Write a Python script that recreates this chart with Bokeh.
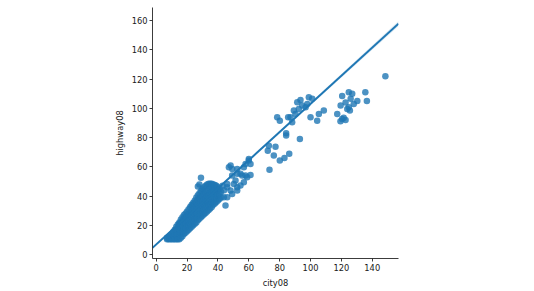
import numpy as np
from bokeh.plotting import figure
from bokeh.models import FixedTicker
from bokeh.embed import file_html
from bokeh.resources import INLINE

# dense cloud: city08 -> list of highway08 values
blob = {
    7: [10.5, 11.5],
    8: [10.5, 12],
    9: [10.5, 13],
    10: [10.5, 14],
    11: [10.5, 13, 15.5],
    12: [10.5, 14, 17],
    13: [10.5, 14, 17, 19],
    14: [10.5, 14, 17.5, 20.5],
    15: [10.5, 14, 17.5, 21, 22],
    16: [11.5, 15, 18.5, 22, 24],
    17: [12.5, 16, 19.5, 23, 25.5],
    18: [14, 17.5, 21, 24.5, 27],
    19: [15, 18.5, 22, 25.5, 28],
    20: [16, 19.5, 23, 26.5, 29.5],
    21: [17, 20.5, 24, 27.5, 31],
    22: [18, 21.5, 25, 28.5, 32.5],
    23: [19, 22.5, 26, 29.5, 33, 34],
    24: [20, 23.5, 27, 30.5, 34, 35.5],
    25: [21, 24.5, 28, 31.5, 35, 37],
    26: [22, 25.5, 29, 32.5, 36, 39],
    27: [23.5, 27, 30.5, 34, 37.5, 40.5, 46.5],
    28: [24.5, 28, 31.5, 35, 38.5, 42, 48],
    29: [25.5, 29, 32.5, 36, 39.5, 43.5, 52.5],
    30: [26.5, 30, 33.5, 37, 40.5, 44, 45],
    31: [27.5, 31, 34.5, 38, 41.5, 46],
    32: [28.5, 32, 35.5, 39, 42.5, 47],
    33: [29.5, 33, 36.5, 40, 43.5, 48],
    34: [30.5, 34, 37.5, 41, 44.5, 48.5],
    35: [31.5, 35, 38.5, 42, 45.5, 48.5],
    36: [32.5, 36, 39.5, 43, 46.5, 48.5],
    37: [34, 37.5, 41, 44.5, 48],
    38: [35, 38.5, 42, 45, 47.5],
    39: [36, 39.5, 43, 47],
    40: [37, 40.5, 44, 46],
    41: [38, 41.5, 45],
    42: [39, 43],
}

# sparse points outside the cloud
outlier_city = [44.9, 43.8, 46, 49.2, 48.2, 46, 52.5, 50.3, 46, 51.4, 56.8, 54.6,
                57.9, 61.1, 58.9, 55.7, 52.5, 54.6, 48.2, 49.3, 47.1, 52.5, 56.8,
                57.9, 60, 61.1, 60, 49.2, 52.5, 43, 44,
                73.4, 72.3, 76.2, 77.3, 73, 80.1, 83.1, 86.2,
                100, 105.4, 108.6, 104.3, 91.4, 93.5, 98.9, 101.1, 97.9, 94.6,
                89.2, 90.2, 96.8, 92.4, 88.1, 87, 85.5, 78.4, 80.1, 84.2, 84.2, 93.1,
                148.5, 135.5, 136.5, 120.5, 124.8, 127, 126, 130.3, 128, 122.7,
                119.5, 124.8, 125.5, 123.8, 117.3, 120.5, 122.7, 119.4, 121.5]
outlier_hwy = [33.5, 39.2, 39.2, 41.5, 43.8, 46, 46, 48.3, 48.3, 50.6, 49.4, 55.2,
               54, 54.5, 52.9, 54, 43.8, 47.2, 60.9, 58.6, 59.7, 58.6, 59.7,
               62, 64.3, 62, 65.4, 54, 55.2, 47, 44,
               58, 71, 67.7, 73.8, 74.5, 64.3, 66, 69,
               94, 96.2, 98.5, 91.6, 104.1, 105.8, 107.6, 106.5, 103, 101.9,
               98.5, 96.2, 100.7, 99.6, 90.5, 94, 94, 94, 91.6, 83, 81.5, 79.1,
               122, 111, 105, 108.5, 111, 110, 106.5, 105, 103, 104,
               102, 100.7, 98.5, 99.6, 96.2, 92.8, 92.1, 91.2, 93.5]

# regression fit
reg_intercept = 6.9
reg_slope = 0.962
ci_city = [-2.4, 20, 60, 100, 157]
ci_half = [0.5, 0.25, 0.4, 0.9, 1.8]

x_ticks = [0, 20, 40, 60, 80, 100, 120, 140]
y_ticks = [0, 20, 40, 60, 80, 100, 120, 140, 160]
x_lim = (-2.4, 157)
y_lim = (-2.7, 169)

city, hwy = [], []
for c, hs in blob.items():
    for h in hs:
        city.append(c)
        hwy.append(h)
city += outlier_city
hwy += outlier_hwy

p = figure(width=534, height=291, x_range=x_lim, y_range=y_lim,
           output_backend="svg", toolbar_location=None,
           min_border_left=152, min_border_right=136,
           min_border_top=7, min_border_bottom=33)
p.grid.visible = False
p.outline_line_color = None
p.background_fill_color = "white"
p.border_fill_color = "white"

p.scatter(city, hwy, size=6.5, fill_color="#1f77b4", fill_alpha=0.8,
          line_color=None)

ci_x = np.array(ci_city)
ci_mid = reg_intercept + reg_slope * ci_x
p.varea(x=ci_x, y1=ci_mid - np.array(ci_half), y2=ci_mid + np.array(ci_half),
        fill_color="#1f77b4", fill_alpha=0.15)
lx = np.array(x_lim)
p.line(lx, reg_intercept + reg_slope * lx, line_color="#1f77b4", line_width=2)

p.xaxis.ticker = FixedTicker(ticks=x_ticks)
p.yaxis.ticker = FixedTicker(ticks=y_ticks)
p.xaxis.axis_label = "city08"
p.yaxis.axis_label = "highway08"
for ax in (p.xaxis, p.yaxis):
    ax.minor_tick_line_color = None
    ax.major_tick_out = 3
    ax.major_tick_in = 0
    ax.major_label_standoff = 2
    ax.axis_label_standoff = 4
    ax.axis_line_color = "#262626"
    ax.axis_line_width = 0.9
    ax.major_tick_line_color = "#262626"
    ax.major_tick_line_width = 0.9
    ax.major_label_text_font = "DejaVu Sans"
    ax.major_label_text_font_size = "8.3px"
    ax.major_label_text_color = "#1a1a1a"
    ax.axis_label_text_font = "DejaVu Sans"
    ax.axis_label_text_font_size = "8.3px"
    ax.axis_label_text_font_style = "normal"
    ax.axis_label_text_color = "#1a1a1a"

open("out.html", "w").write(file_html(p, INLINE))
